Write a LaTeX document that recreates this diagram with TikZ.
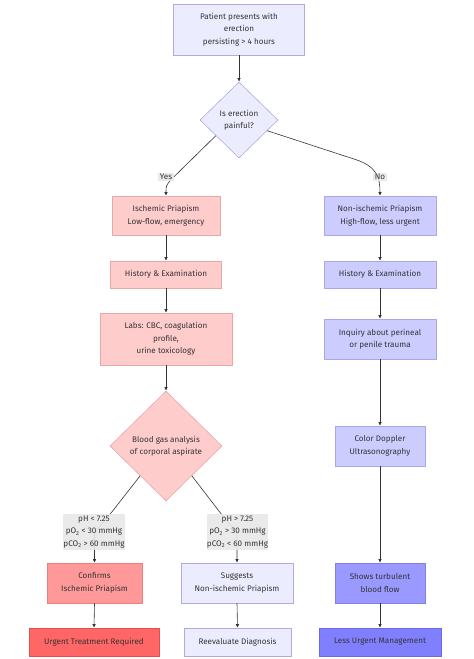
\documentclass[tikz,border=0pt]{standalone}
\usepackage{fontspec}
\setmainfont{Fira Sans}
\usetikzlibrary{shapes.geometric,arrows.meta,calc}
\definecolor{txt}{HTML}{333333}
\definecolor{lnc}{HTML}{333333}
\definecolor{defF}{HTML}{ECECFF}\definecolor{defD}{HTML}{B3A9DE}
\definecolor{rF}{HTML}{FFCCCC}\definecolor{rD}{HTML}{E8A8A8}
\definecolor{bF}{HTML}{CCCCFF}\definecolor{bD}{HTML}{A8A8E8}
\definecolor{r2F}{HTML}{FF9999}\definecolor{r2D}{HTML}{E88080}
\definecolor{r3F}{HTML}{FF6666}\definecolor{r3D}{HTML}{E05050}
\definecolor{b2F}{HTML}{9999FF}\definecolor{b2D}{HTML}{8080E0}
\definecolor{b3F}{HTML}{8080FF}\definecolor{b3D}{HTML}{6A6AE0}
\definecolor{lblF}{HTML}{E8E8E8}
\begin{document}
\begin{tikzpicture}[x=1pt,y=-1pt,
  every node/.style={font=\fontsize{8.1}{12.4}\selectfont, text=txt, align=center},
  box/.style={rectangle, draw, line width=0.6pt, inner sep=0pt},
  dec/.style={diamond, draw, line width=0.6pt, inner sep=0pt, aspect=1},
  lbl/.style={fill=lblF, fill opacity=0.9, text opacity=1, inner sep=1.5pt},
  arr/.style={draw=lnc, line width=0.6pt, -{Latex[length=3.5pt,width=3.5pt]}}]
\useasboundingbox (0,0) rectangle (474,659);
% nodes
\node[box, fill=defF, draw=defD, minimum width=131, minimum height=51] (start) at (239,29.5) {Patient presents with\\erection\\persisting > 4 hours};
\node[dec, fill=defF, draw=defD, minimum width=78, minimum height=76] (q1) at (239,120) {Is erection\\painful?};
\node[box, fill=rF, draw=rD, minimum width=108, minimum height=39] (isch) at (166,215.5) {Ischemic Priapism\\Low-flow, emergency};
\node[box, fill=bF, draw=bD, minimum width=112, minimum height=39] (nonisch) at (380,215.5) {Non-ischemic Priapism\\High-flow, less urgent};
\node[box, fill=rF, draw=rD, minimum width=111, minimum height=27] (hisL) at (166,274.5) {History \& Examination};
\node[box, fill=bF, draw=bD, minimum width=112, minimum height=27] (hisR) at (380,274.5) {History \& Examination};
\node[box, fill=rF, draw=rD, minimum width=132, minimum height=52] (labs) at (166,339) {Labs: CBC, coagulation\\profile,\\urine toxicology};
\node[box, fill=bF, draw=bD, minimum width=112, minimum height=40] (inq) at (380,339) {Inquiry about perineal\\or penile trauma};
\node[dec, fill=rF, draw=rD, minimum width=112, minimum height=110] (bga) at (166,446) {Blood gas analysis\\of corporal aspirate};
\node[box, fill=bF, draw=bD, minimum width=90, minimum height=40] (cdu) at (380,446) {Color Doppler\\Ultrasonography};
\node[box, fill=r2F, draw=r2D, minimum width=95, minimum height=40] (conf) at (94.5,583) {Confirms\\Ischemic Priapism};
\node[box, fill=defF, draw=defD, minimum width=112, minimum height=40] (sugg) at (237,583) {Suggests\\Non-ischemic Priapism};
\node[box, fill=b2F, draw=b2D, minimum width=90, minimum height=40] (turb) at (380,583) {Shows turbulent\\blood flow};
\node[box, fill=r3F, draw=r3D, minimum width=130, minimum height=28] (urg) at (94,642) {Urgent Treatment Required};
\node[box, fill=defF, draw=defD, minimum width=107, minimum height=28] (reev) at (237.5,642) {Reevaluate Diagnosis};
\node[box, fill=b3F, draw=b3D, minimum width=122, minimum height=28] (lessU) at (380,642) {Less Urgent Management};
% edges
\draw[arr] (start.south) -- (q1.north);
\draw[arr] ($(q1.west)!0.41!(q1.south)$) -- ($(isch.north)+(5,-16)$) .. controls ($(isch.north)+(0,-10)$) .. (isch.north);
\draw[arr] ($(q1.east)!0.28!(q1.south)$) -- ($(nonisch.north)+(-24,-36)$) .. controls ($(nonisch.north)+(-3,-29)$) and ($(nonisch.north)+(0,-18)$) .. (nonisch.north);
\draw[arr] (isch.south) -- (hisL.north);
\draw[arr] (hisL.south) -- (labs.north);
\draw[arr] (labs.south) -- (bga.north);
\draw[arr] (nonisch.south) -- (hisR.north);
\draw[arr] (hisR.south) -- (inq.north);
\draw[arr] (inq.south) -- (cdu.north);
\draw[arr] (cdu.south) -- (turb.north);
\draw[arr] ($(bga.west)!0.54!(bga.south)$) -- ($(conf.north)+(16,-49)$) -- ($(conf.north)+(0,-30)$) -- (conf.north);
\draw[arr] ($(bga.east)!0.54!(bga.south)$) -- ($(sugg.north)+(-16,-49)$) -- ($(sugg.north)+(0,-30)$) -- (sugg.north);
\draw[arr] (conf.south) -- (urg.north);
\draw[arr] (sugg.south) -- (reev.north);
\draw[arr] (turb.south) -- (lessU.north);
% edge labels
\node[lbl] (yes) at (166,177) {Yes};
\node[lbl] (no) at (380,177) {No};
\node[lbl, minimum width=60, minimum height=36, inner sep=0pt] (condL) at (94,532) {pH < 7.25\\pO\textsubscript{2} < 30 mmHg\\pCO\textsubscript{2} > 60 mmHg};
\node[lbl, minimum width=60, minimum height=36, inner sep=0pt] (condR) at (237.5,532) {pH > 7.25\\pO\textsubscript{2} > 30 mmHg\\pCO\textsubscript{2} < 60 mmHg};
\end{tikzpicture}
\end{document}
